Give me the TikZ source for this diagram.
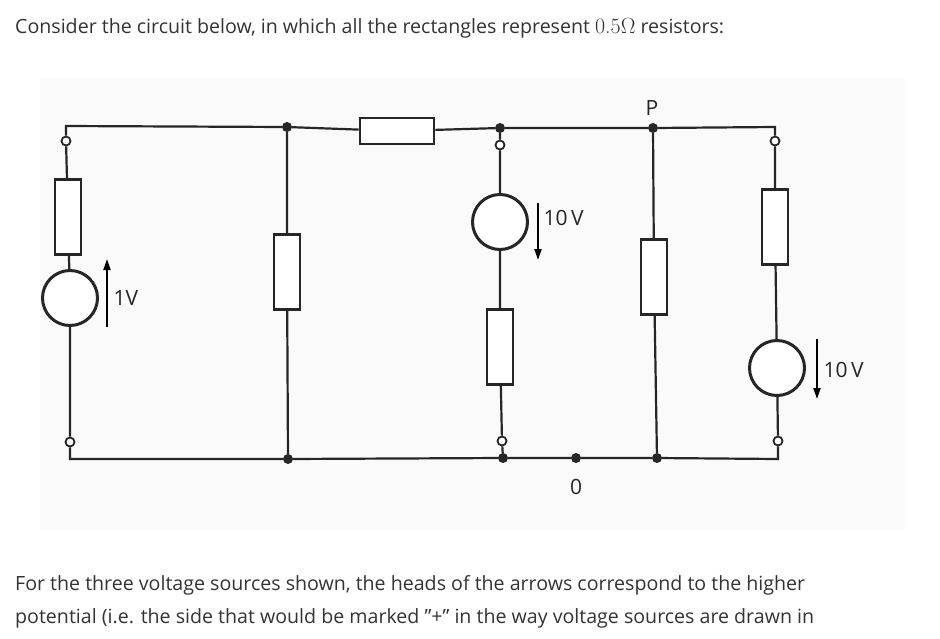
\documentclass[tikz,border=0pt]{standalone}
\usepackage[no-math]{fontspec}
\setmainfont{Open Sans}
\usetikzlibrary{arrows.meta}
\begin{document}
\begin{tikzpicture}[x=1pt,y=-1pt,
  w/.style={line width=2.2pt,black!85},
  res/.style={draw=black!85,line width=2.6pt,fill=white,minimum width=26pt,minimum height=75pt,inner sep=0pt},
  hres/.style={res,minimum width=74pt,minimum height=26pt},
  src/.style={circle,draw=black!85,line width=3pt,fill=white,minimum size=55pt,inner sep=0pt},
  oc/.style={circle,draw=black!85,line width=1.8pt,fill=white,minimum size=9pt,inner sep=0pt},
  dt/.style={circle,fill=black!85,minimum size=10pt,inner sep=0pt},
  va/.style={line width=2pt,-{Triangle[length=11pt,width=7pt]}},
  lab/.style={font=\fontsize{21}{22}\selectfont,text=black!85},
  txt/.style={font=\fontsize{19.6}{22}\selectfont,anchor=west,text=black!80,inner sep=0pt}]
\useasboundingbox (0,0) rectangle (940,638);
\fill[black!2] (40,78) rectangle (905,530);
\node[txt] (t1) at (15,28) {Consider the circuit below, in which all the rectangles represent {\fontspec{Latin Modern Roman}\fontsize{22}{22}\selectfont 0.5Ω} resistors:};
\node[txt] (t2) at (15,585) {For the three voltage sources shown, the heads of the arrows correspond to the higher};
\node[txt] (t3) at (15,618) {potential (i.e. the side that would be marked "+" in the way voltage sources are drawn in};
\coordinate (tl) at (66,126); \coordinate (bl) at (70,459);
\coordinate (tr) at (775,127); \coordinate (br) at (778,459);
\node[oc] (o1t) at (66,141) {};
\node[res] (r1) at (68,217) {};
\node[src] (s1) at (70,298) {};
\node[oc] (o1b) at (70,442) {};
\node[dt] (d2t) at (287,127) {};
\node[res] (r2) at (287,272) {};
\node[dt] (d2b) at (288,459) {};
\node[hres] (rt) at (397,131) {};
\node[dt] (d3t) at (500,128) {};
\node[oc] (o3t) at (500,145) {};
\node[src] (s3) at (500,222) {};
\node[res] (r3) at (500,347) {};
\node[oc] (o3b) at (502,441) {};
\node[dt] (d3b) at (503,458) {};
\node[dt] (d0) at (576,458) {};
\node[lab] (l0) at (576,487) {0};
\node[dt] (dP) at (653,128) {};
\node[lab] (lP) at (652,108) {P};
\node[res] (r4) at (654,277) {};
\node[dt] (d4b) at (657,458) {};
\node[oc] (o5t) at (775,141) {};
\node[res] (r5) at (775,227) {};
\node[src] (s5) at (777,368) {};
\node[oc] (o5b) at (778,441) {};
\draw[w] (o1t) -- (tl) -- (d2t) -- (rt) -- (d3t) -- (dP) -- (tr) -- (o5t);
\draw[w] (o1t) -- (r1) -- (s1) -- (o1b) -- (bl) -- (d2b) -- (d3b) -- (d0) -- (d4b) -- (br) -- (o5b);
\draw[w] (d2t) -- (r2) -- (d2b);
\draw[w] (d3t) -- (o3t) -- (s3) -- (r3) -- (o3b) -- (d3b);
\draw[w] (dP) -- (r4) -- (d4b);
\draw[w] (o5t) -- (r5) -- (s5) -- (o5b);
\coordinate (a1s) at (107,327); \coordinate (a1e) at (107,259);
\draw[va] (a1s) -- (a1e);
\node[lab,anchor=west] (l1) at (110,298) {1V};
\coordinate (a3s) at (538,203); \coordinate (a3e) at (538,260);
\draw[va] (a3s) -- (a3e);
\node[lab,anchor=west] (l3) at (540,218) {10\,V};
\coordinate (a5s) at (817,339); \coordinate (a5e) at (817,399);
\draw[va] (a5s) -- (a5e);
\node[lab,anchor=west] (l5) at (820,370) {10\,V};
\end{tikzpicture}
\end{document}
